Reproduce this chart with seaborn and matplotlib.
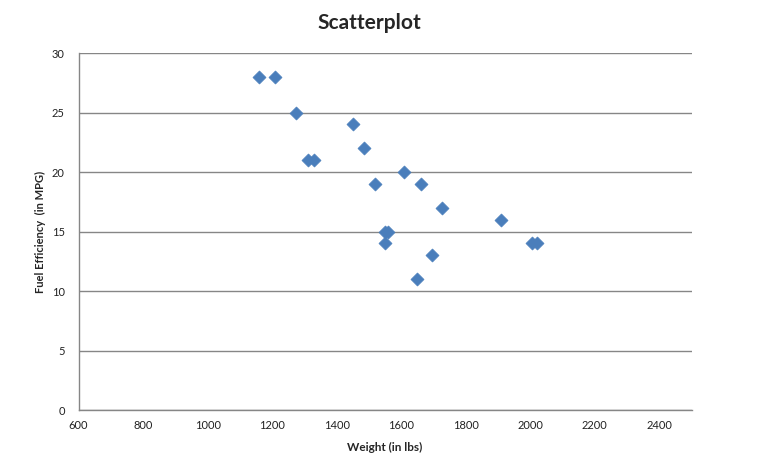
import matplotlib
matplotlib.use("Agg")
import matplotlib.pyplot as plt
import seaborn as sns
import pandas as pd

weight = [1160, 1210, 1275, 1450, 1485, 1310, 1330, 1610, 1520, 1660,
          1725, 1910, 1550, 1560, 1550, 2005, 2020, 1695, 1650]
mpg = [28, 28, 25, 24, 22, 21, 21, 20, 19, 19,
       17, 16, 15, 15, 14, 14, 14, 13, 11]

df = pd.DataFrame({"weight": weight, "mpg": mpg})

sns.set_theme(style="white")
plt.rcParams["font.family"] = ["Lato", "DejaVu Sans"]

fig = plt.figure(figsize=(7.73, 4.65), dpi=100)
ax = fig.add_axes([0.1016, 0.118, 0.7932, 0.768])

sns.scatterplot(data=df, x="weight", y="mpg", marker="D", s=44,
                color="#4a7ebb", edgecolor="#4a7ebb", linewidth=0.5, ax=ax, zorder=3)

ax.set_xlim(600, 2500)
ax.set_ylim(0, 30)
ax.set_xticks(range(600, 2401, 200))
ax.set_yticks(range(0, 31, 5))
ax.yaxis.grid(True, color="#868686", linewidth=1)
ax.xaxis.grid(False)

for side in ["top", "right"]:
    ax.spines[side].set_visible(False)
for side in ["left", "bottom"]:
    ax.spines[side].set_color("#868686")
    ax.spines[side].set_linewidth(1)

ax.tick_params(axis="both", which="both", direction="out", length=4,
               width=1, color="#868686", labelsize=8, labelcolor="#222222", pad=3)
ax.tick_params(axis="y", pad=6)

ax.set_xlabel("Weight (in lbs)", fontsize=8.5, fontweight="bold", labelpad=8)
ax.set_ylabel("Fuel Efficiency  (in MPG)", fontsize=8, fontweight="bold", labelpad=4)
fig.text(0.478, 0.95, "Scatterplot", ha="center", va="center",
         fontsize=15, fontweight="bold")

fig.savefig("out.png", dpi=100)
